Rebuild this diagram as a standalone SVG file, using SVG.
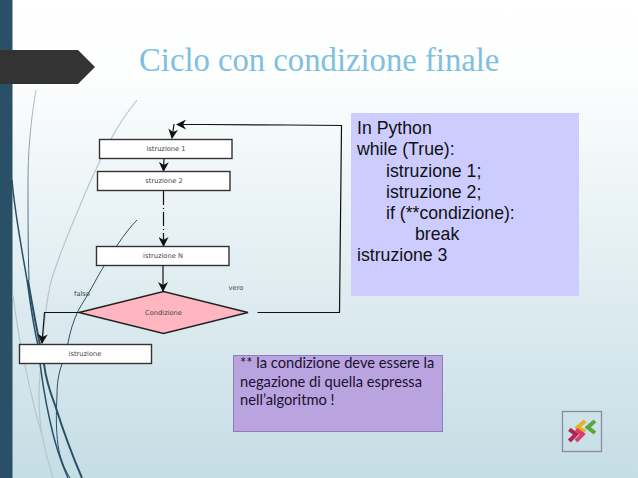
<svg xmlns="http://www.w3.org/2000/svg" width="638" height="478" viewBox="0 0 638 478">
<defs>
<linearGradient id="bg" x1="0" y1="0" x2="0" y2="1"><stop offset="0" stop-color="#ffffff"/><stop offset="0.15" stop-color="#fdfefe"/><stop offset="1" stop-color="#c5dde5"/></linearGradient>
<linearGradient id="fade" gradientUnits="userSpaceOnUse" x1="0" y1="90" x2="0" y2="280"><stop offset="0" stop-color="#b4c6cd"/><stop offset="1" stop-color="#2a5068"/></linearGradient>
<marker id="ah" viewBox="0 0 10 10" refX="9" refY="5" markerWidth="10" markerHeight="10" markerUnits="userSpaceOnUse" orient="auto"><path d="M0 0L10 5L0 10L3 5Z" fill="#111"/></marker>
</defs>
<style>
.box{fill:#fff;stroke:#333;stroke-width:1.4}
.lab{font-family:"DejaVu Sans",sans-serif;font-size:6.7px;fill:#444;text-anchor:middle}
.ln{fill:none;stroke:#111;stroke-width:1.2}
.cv{fill:none;stroke:#2a5068}
.cl{fill:none;stroke:#b4c6cd}
.py{font-family:"Liberation Sans",Arial,sans-serif;font-size:17.7px;fill:#111}
.nt{font-family:Lato,"Open Sans",sans-serif;font-size:14.700px;fill:#1a1030}
.chev{fill:none;stroke-width:4}
</style>
<rect width="638" height="478" fill="url(#bg)"/>
<g id="decor">
<rect x="0" y="0" width="12.5" height="478" fill="#2a5068"/>
<path class="cl" stroke-width="1.2" d="M13 295C17 325 21 350 25 365C30 390 36 415 42 435C45 450 49 465 53 478"/>
<path class="cl" stroke-width="1.2" d="M137 100C125 115 118 126 112 137C100 160 88 185 77 213C65 240 58 260 52 278C47 295 42 340 39 391C39 410 40 425 42 435"/>
<path fill="none" stroke="url(#fade)" stroke-width="1" d="M36 90C30 125 28 155 28 180C28 215 28 250 29 280"/>
<path class="cv" stroke-width="1.5" d="M12 180C15 215 22 250 27 280C30 300 33 325 38 345C40 365 44 395 50 421C55 445 61 462 68 478"/>
<path class="cv" stroke-width="2" d="M28 280C32 305 36 325 40 345C42 355 43 360 44 364C46 380 50 392 55 405C63 430 72 455 82 478"/>
<path class="cv" stroke-width="1" d="M137 220C125 232 110 255 97 278C88 295 83 302 78 311C73 322 70 332 68 343C65 350 63 357 62 364C58 375 57 385 57 395C56 415 56 430 58 445C60 458 64 468 70 478"/>
</g>
<g id="title-arrow"><path d="M0 50H78L95 67L78 84H0Z" fill="#333"/></g>
<text id="title" x="139" y="71" font-family="'Liberation Serif','DejaVu Serif',serif" font-size="32.700" fill="#7fc0de">Ciclo con condizione finale</text>
<g id="connectors">
<path class="ln" d="M174 124L172 138" marker-end="url(#ah)"/>
<path class="ln" d="M164 158L163.500 171" marker-end="url(#ah)"/>
<path class="ln" stroke-dasharray="14 3 1 3" d="M163.500 191V240"/>
<path class="ln" d="M163.500 238V246" marker-end="url(#ah)"/>
<path class="ln" d="M163 266V291" marker-end="url(#ah)"/>
<path class="ln" d="M257.500 312.500H339.500L341.500 125.500L290 125L205 124.500H177" marker-end="url(#ah)"/>
<path class="ln" d="M79 312.500H44.500L42 343" marker-end="url(#ah)"/>
</g>
<g id="n1"><rect class="box" x="99.500" y="139.500" width="132.500" height="19"/><text class="lab" x="166" y="151">istruzione 1</text></g>
<g id="n2"><rect class="box" x="97.500" y="171.500" width="132.500" height="19"/><text class="lab" x="164" y="183">struzione 2</text></g>
<g id="n3"><rect class="box" x="96.500" y="246.500" width="132.500" height="19"/><text class="lab" x="163" y="258">istruzione N</text></g>
<g id="n4"><path d="M79 312.500L163.500 291.500L248 312.500L163.500 333.500Z" fill="#ffb6c1" stroke="#222" stroke-width="1.3"/><text class="lab" x="163.500" y="315">Condizione</text></g>
<g id="n5"><rect class="box" x="19.500" y="344.500" width="132" height="19"/><text class="lab" x="85" y="356">istruzione</text></g>
<text class="lab" x="82" y="296">falso</text>
<text class="lab" x="236" y="290">vero</text>
<g id="python">
<rect x="351" y="113" width="228" height="183" fill="#ccccff"/>
<text class="py"><tspan x="357" y="134">In Python</tspan><tspan x="357" y="155">while (True):</tspan><tspan x="386" y="176.500">istruzione 1;</tspan><tspan x="386" y="198">istruzione 2;</tspan><tspan x="386" y="219">if (**condizione):</tspan><tspan x="415" y="240">break</tspan><tspan x="357" y="261">istruzione 3</tspan></text>
</g>
<g id="note">
<rect x="233.500" y="355.500" width="209" height="76" fill="#b9a4df" stroke="#8f7cc0"/>
<text class="nt"><tspan x="240" y="368">** la condizione deve essere la</tspan><tspan x="240" y="387">negazione di quella espressa</tspan><tspan x="240" y="404.500">nell’algoritmo !</tspan></text>
</g>
<g id="logo">
<rect x="562.500" y="411.500" width="39" height="40" fill="none" stroke="#8a8a9a" stroke-width="1.3"/>
<path class="chev" stroke="#5aa63c" d="M595 421L587.700 427.300L595 433"/>
<path class="chev" stroke="#e8b020" d="M585 421L577.700 427.300L585 432"/>
<path class="chev" stroke="#d8406a" d="M576 429.300L582.700 434.300L576 441"/>
<path class="chev" stroke="#b02458" d="M569.300 429.300L576 434.300L569.300 441"/>
</g>
</svg>
